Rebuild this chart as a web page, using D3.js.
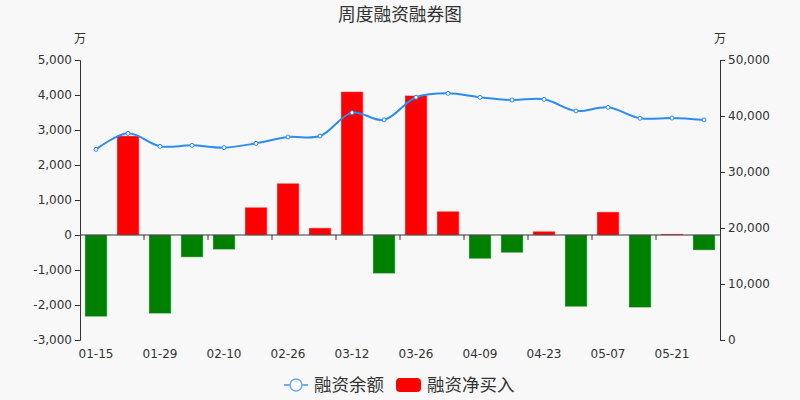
<!DOCTYPE html>
<html><head><meta charset="utf-8">
<script src="https://cdn.jsdelivr.net/npm/d3@7"></script>
<style>
body{margin:0;background:#f8f8f8;}
svg{display:block;font-family:"DejaVu Sans","Noto Sans CJK SC",sans-serif;}
</style></head><body>
<svg id="c" width="800" height="400"></svg>
<script>
const categories = ["01-15","01-22","01-29","02-05","02-10","02-19","02-26","03-05","03-12","03-19","03-26","04-02","04-09","04-16","04-23","04-30","05-07","05-14","05-21","05-28"];
const netBuy = [-2330,2830,-2240,-630,-410,790,1477,200,4090,-1095,3980,677,-677,-505,105,-2048,657,-2067,28,-430];
const balance = [34050,36900,34580,34760,34350,35120,36250,36430,40600,39300,43340,44050,43340,42860,42980,40900,41550,39600,39640,39300];
const leftTicks = [-3000,-2000,-1000,0,1000,2000,3000,4000,5000];
const rightTicks = [0,10000,20000,30000,40000,50000];
const titleText = "周度融资融券图";
const seriesNames = ["融资余额","融资净买入"];
const unitText = "万";

const svg = d3.select("#c");
const L = 80, R = 720, T = 60, B = 340;
const x = d3.scaleBand().domain(categories).range([L, R]);
const yL = d3.scaleLinear().domain([-3000, 5000]).range([B, T]);
const yR = d3.scaleLinear().domain([0, 50000]).range([B, T]);
const fmt = v => d3.format(",")(v).replace("−", "-");
const axisColor = "#333";
const textColor = "#333";
const cjk = "'Noto Sans CJK SC',sans-serif";

// title
svg.append("text").attr("x", 400).attr("y", 20.5).attr("text-anchor", "middle")
  .attr("font-size", 17.7).attr("fill", "#333").attr("font-family", cjk).text(titleText);

// unit labels
svg.append("text").attr("x", 80).attr("y", 43).attr("text-anchor", "middle").attr("font-size", 12).attr("fill", textColor).attr("font-family", cjk).text(unitText);
svg.append("text").attr("x", 720).attr("y", 43).attr("text-anchor", "middle").attr("font-size", 12).attr("fill", textColor).attr("font-family", cjk).text(unitText);

// left axis
const gL = svg.append("g").attr("transform", `translate(${L},0)`)
  .call(d3.axisLeft(yL).tickValues(leftTicks).tickFormat(fmt).tickSize(5).tickPadding(3));
// right axis
const gR = svg.append("g").attr("transform", `translate(${R},0)`)
  .call(d3.axisRight(yR).tickValues(rightTicks).tickFormat(fmt).tickSize(5).tickPadding(3));
[gL, gR].forEach(g => {
  g.select(".domain").attr("stroke", axisColor).attr("stroke-width", 1);
  g.selectAll(".tick line").attr("stroke", axisColor);
  g.selectAll(".tick text").attr("fill", textColor).attr("font-size", 12).attr("font-family", "'DejaVu Sans',sans-serif");
});

// bars
svg.append("g").selectAll("rect").data(categories).join("rect")
  .attr("x", d => x(d) + x.bandwidth() / 2 - 11)
  .attr("width", 22)
  .attr("y", (d, i) => Math.min(yL(netBuy[i]), yL(0)))
  .attr("height", (d, i) => Math.abs(yL(netBuy[i]) - yL(0)))
  .attr("fill", (d, i) => netBuy[i] >= 0 ? "#ff0000" : "#008000")
  .attr("stroke", (d, i) => netBuy[i] >= 0 ? "rgba(255,180,180,0.8)" : "rgba(160,220,160,0.8)")
  .attr("stroke-width", 0.6);

// x axis at zero
const gX = svg.append("g").attr("transform", `translate(0,${yL(0)})`);
gX.append("line").attr("x1", L).attr("x2", R).attr("stroke", axisColor);
const labelIdx = categories.map((d, i) => i).filter(i => i % 2 === 0);
gX.selectAll("line.tk").data(labelIdx.slice(1)).join("line").attr("class", "tk")
  .attr("x1", i => x(categories[i])).attr("x2", i => x(categories[i])).attr("y1", 0).attr("y2", 5).attr("stroke", axisColor);
svg.append("g").selectAll("text").data(labelIdx).join("text")
  .attr("x", i => x(categories[i]) + x.bandwidth() / 2).attr("y", 358)
  .attr("text-anchor", "middle").attr("font-size", 12).attr("fill", textColor)
  .attr("font-family", "'DejaVu Sans',sans-serif")
  .text(i => categories[i]);

// line
const lineColor = "#2a8cf5";
const line = d3.line().x((d, i) => x(categories[i]) + x.bandwidth() / 2).y(d => yR(d)).curve(d3.curveCatmullRom.alpha(0.5));
svg.append("path").datum(balance).attr("d", line).attr("fill", "none").attr("stroke", lineColor).attr("stroke-width", 2);
svg.append("g").selectAll("circle").data(balance).join("circle")
  .attr("cx", (d, i) => x(categories[i]) + x.bandwidth() / 2).attr("cy", d => yR(d)).attr("r", 2)
  .attr("fill", "#fff").attr("stroke", lineColor).attr("stroke-width", 1);

// legend
const lg = svg.append("g");
lg.append("line").attr("x1", 284).attr("x2", 308).attr("y1", 385).attr("y2", 385).attr("stroke", "#6aaef7").attr("stroke-width", 2);
lg.append("circle").attr("cx", 296).attr("cy", 385).attr("r", 6).attr("fill", "#fff").attr("stroke", "#6aaef7").attr("stroke-width", 1.5);
lg.append("text").attr("x", 314).attr("y", 391).attr("font-size", 17.5).attr("fill", "#333").attr("font-family", cjk).text(seriesNames[0]);
lg.append("rect").attr("x", 396).attr("y", 378).attr("width", 25).attr("height", 14).attr("rx", 4).attr("fill", "#ff0000");
lg.append("text").attr("x", 427).attr("y", 391).attr("font-size", 17.5).attr("fill", "#333").attr("font-family", cjk).text(seriesNames[1]);
</script>
</body></html>
